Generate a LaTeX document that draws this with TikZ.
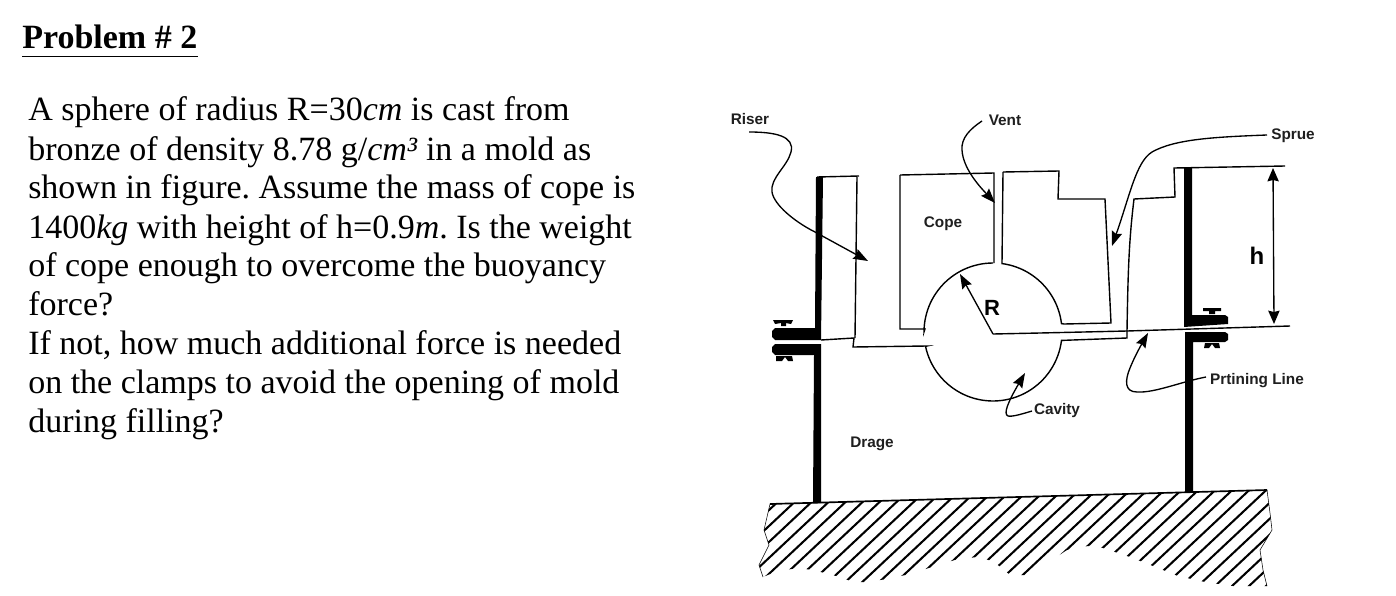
\documentclass[tikz,border=0pt]{standalone}
\usepackage{fontspec}
\setmainfont{Liberation Serif}
\newfontfamily\arialf{Liberation Sans}
\usetikzlibrary{arrows.meta}
\frenchspacing
\tikzset{
  x=0.75pt,y=-0.75pt,
  wall/.style={line width=1.05pt,line join=miter,black},
  leader/.style={line width=1pt,-{Stealth[length=11pt,width=8pt,inset=1.5pt]},black},
  dim/.style={line width=1pt,{Stealth[length=10pt,width=8.5pt,inset=1pt]}-{Stealth[length=10pt,width=8.5pt,inset=1pt]},black},
  tag/.style={font=\arialf\bfseries\fontsize{11.5}{13}\selectfont,inner sep=0pt,text=black!88},
  body/.style={anchor=base west,inner sep=0pt,font=\fontsize{25.5}{28}\selectfont},
  hatchline/.style={line width=1.55pt,black},
}
\begin{document}
\begin{tikzpicture}
\useasboundingbox[fill=white] (0,0) rectangle (1396,596);
% ---- text
\node[body,font=\bfseries\fontsize{25.5}{28}\selectfont] (head) at (22,48) {Problem \# 2};
\draw[line width=1.1pt] (22,56.5) -- (198,56.5);
\node[body] (l1) at (28,120) {A sphere of radius R=30\textit{cm} is cast from};
\node[body] (l2) at (28,160) {bronze of density 8.78 g/\textit{cm³} in a mold as};
\node[body] (l3) at (28,198) {shown in figure. Assume the mass of cope is};
\node[body] (l4) at (28,238) {1400\textit{kg} with height of h=0.9\textit{m}. Is the weight};
\node[body] (l5) at (28,276) {of cope enough to overcome the buoyancy};
\node[body] (l6) at (28,315) {force?};
\node[body] (l7) at (28,354) {If not, how much additional force is needed};
\node[body] (l8) at (28,393) {on the clamps to avoid the opening of mold};
\node[body] (l9) at (28,432) {during filling?};
% ---- hatching
\begin{scope}
\clip (770,504) -- (1267,490) -- (1270,513) -- (1272,530) -- (1260,550) -- (1263,570) -- (1267,586)
  -- (1233,586) -- (1205,582) -- (1178,576) -- (1153,566) -- (1130,557) -- (1103,548) -- (1088,546)
  -- (1067,550) -- (1047,563) -- (1025,575) -- (1010,575) -- (1002,568) -- (992,561) -- (978,557)
  -- (958,559) -- (935,566) -- (910,574) -- (887,579) -- (867,582) -- (853,582) -- (840,577)
  -- (813,570) -- (797,568) -- (775,572) -- (763,577) -- (759,565) -- (769,545) -- (764,530) -- cycle;
\foreach \t in {0,...,42}
  \draw[hatchline] ({801+17*\t},480) -- ({801+17*\t-130},{480+122});
\end{scope}
\draw[line width=0.4pt] (770,504) -- (764,530) -- (769,545) -- (759,565) -- (763,577);
\draw[line width=0.4pt] (1267,490) -- (1270,513) -- (1272,530) -- (1260,550) -- (1263,570) -- (1267,586);
\draw[line width=1.25pt] (770,504) -- (1267,490);
% ---- flask bars, flanges and clamp nuts
\fill[black] (816,177) -- (823,177) -- (821,340) -- (775,340) -- (772,337) -- (772,331) -- (775,328) -- (815,328) -- cycle;
\fill[black] (775,344) -- (821,344) -- (821,503) -- (813,503) -- (814,355) -- (775,355) -- (772,352) -- (772,347) -- cycle;
\fill[black] (773,320) -- (793,320) -- (791,324) -- (786,323) -- (786,326) -- (781,326) -- (781,323) -- (775,324) -- cycle;
\fill[black] (776,356) -- (792,356) -- (793,361) -- (788,361) -- (785,357) -- (782,361) -- (776,361) -- cycle;
\fill[black] (1184,168) -- (1192,168) -- (1192,315) -- (1225,315) -- (1228,317) -- (1228,324) -- (1184,327) -- cycle;
\fill[black] (1185,332) -- (1225,332) -- (1228,334) -- (1228,340) -- (1225,342) -- (1193,342) -- (1193,492) -- (1185,492) -- cycle;
\fill[black] (1203,308) -- (1221,308) -- (1221,311) -- (1215,311) -- (1215,314) -- (1209,314) -- (1209,311) -- (1203,311) -- cycle;
\fill[black] (1205,343) -- (1219,343) -- (1220,348) -- (1215,348) -- (1212,344) -- (1209,348) -- (1204,348) -- cycle;
% ---- drag and cope outlines
\draw[wall] (817,177) -- (859,176);
\draw[wall] (857,177) -- (855,338);
\draw[wall] (821,340) -- (854,338) -- (853,347) -- (927,346)
  -- plot[domain=168:7,samples=50] ({993+69*cos(\x)},{332+69*sin(\x)}) -- (1127,338) -- (1127,331);
\draw[wall] (900,175) -- (994,173) -- (994,263);
\draw[wall] (900,175) -- (900,329) -- (925,329)
  -- plot[domain=180:270,samples=30] ({993+69*cos(\x)},{332+69*sin(\x)});
\draw[wall] (1003,172) -- (1002,263);
\draw[wall] (1003,172) -- (1059,171) -- (1058,199) -- (1105,199) -- (1111,323) -- (1064,324)
  -- plot[domain=353:277,samples=30] ({993+69*cos(\x)},{332+69*sin(\x)});
\draw[wall] (993,334) -- (1040,333) -- (1127,331) -- (1290,326);
\draw[wall] (1127,331) .. controls (1128,270) and (1129,240) .. (1134,199) -- (1175,197) -- (1174,168) -- (1285,166);
% ---- labels
\node[tag] (riser) at (750,119.5) {Riser};
\node[tag] (vent) at (1005,120.5) {Vent};
\node[tag] (cope) at (943,223.5) {Cope};
\node[tag] (sprue) at (1293,135.5) {Sprue};
\node[tag] (parting) at (1257,381) {Prtining Line};
\node[tag] (cavity) at (1057,411) {Cavity};
\node[tag] (drage) at (872,444) {Drage};
\node[inner sep=0pt,font=\arialf\bfseries\fontsize{16.5}{18}\selectfont] (rlabel) at (992,308) {R};
\node[inner sep=0pt,font=\arialf\bfseries\fontsize{18}{20}\selectfont] (hlabel) at (1257,256) {h};
% ---- leaders
\coordinate (rcentre) at (993,334);
\coordinate (rrim) at (960,274);
\draw[leader] (rcentre) -- (rrim);
\coordinate (htop) at (1273,168);
\coordinate (hbot) at (1274,324);
\draw[dim] (htop) -- (hbot);
\coordinate (rs) at (749,132);
\coordinate (ra) at (868,261);
\draw[leader] (rs) .. controls (775,132) and (795,136) .. (791,152)
  .. controls (787,167) and (770,178) .. (772,192)
  .. controls (774,205) and (795,222) .. (815,232) -- (ra);
\coordinate (vs) at (982,121);
\coordinate (va) at (995,203);
\draw[leader] (vs) .. controls (970,129) and (961,138) .. (962,150)
  .. controls (963,170) and (983,190) .. (va);
\coordinate (ss) at (1267,135);
\coordinate (sa) at (1112,246);
\draw[leader] (ss) .. controls (1215,137) and (1175,139) .. (1152,152)
  .. controls (1136,162) and (1130,195) .. (sa);
\coordinate (ps) at (1206,377);
\coordinate (pa) at (1148,333);
\draw[leader] (ps) .. controls (1180,382) and (1155,393) .. (1137,392)
  .. controls (1124,392) and (1125,380) .. (1130,368)
  .. controls (1134,358) and (1140,347) .. (pa);
\coordinate (cs) at (1032,411);
\coordinate (ca) at (1025,373);
\draw[leader] (cs) .. controls (1022,414) and (1012,417) .. (1008,416)
  .. controls (1003,414) and (1008,402) .. (ca);
\end{tikzpicture}
\end{document}
